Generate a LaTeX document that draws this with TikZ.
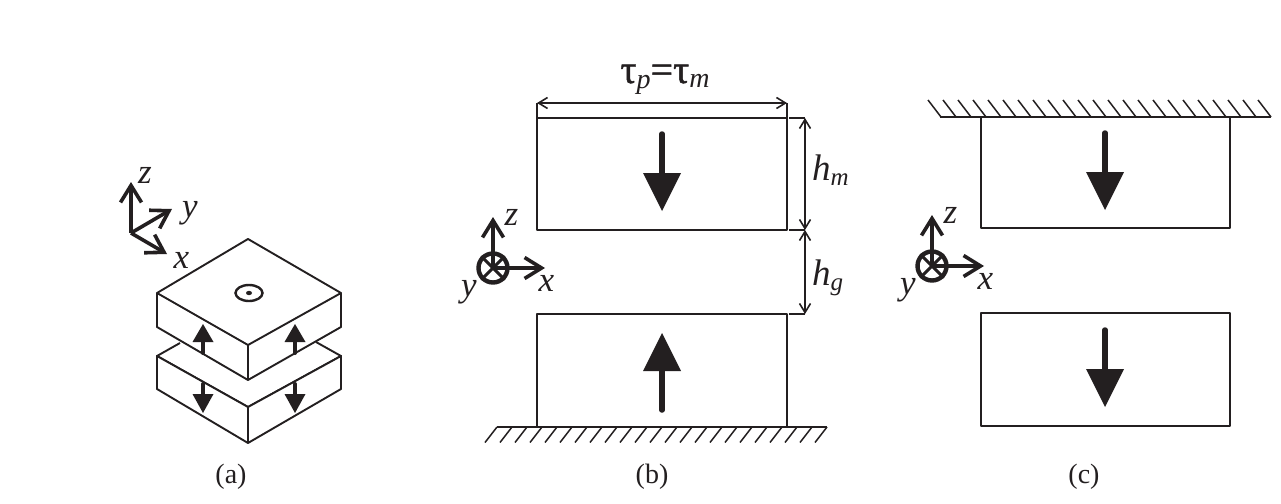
\documentclass[tikz,border=0pt]{standalone}
\usepackage{fontspec}
\setmainfont{Liberation Serif}
\newfontfamily\taufont[FakeBold=1.2]{Liberation Serif}
\usetikzlibrary{arrows.meta}
\definecolor{ink}{HTML}{231F20}
\tikzset{
  part/.style={draw=ink,line width=1.9pt,line join=round,fill=white},
  axisline/.style={draw=ink,line width=3.6pt,-{Straight Barb[length=17pt,width=21pt,line width=3.6pt]}},
  dimline/.style={draw=ink,line width=1.6pt,{Straight Barb[length=9pt,width=11pt,line width=1.6pt]}-{Straight Barb[length=9pt,width=11pt,line width=1.6pt]}},
  extline/.style={draw=ink,line width=1.6pt},
  hatchline/.style={draw=ink,line width=1.5pt},
  ground/.style={draw=ink,line width=2pt},
  axlabel/.style={text=ink,font=\fontsize{35}{35}\selectfont\itshape,inner sep=0pt},
  dimlabel/.style={text=ink,font=\fontsize{37}{37}\selectfont,inner sep=0pt},
  caption/.style={text=ink,font=\fontsize{28}{28}\selectfont,inner sep=0pt},
  ringmark/.style={circle,draw=ink,line width=4.4pt,minimum size=29pt,inner sep=0pt}
}
% shaft start, head base, tip, half-width, shaft width, x
\newcommand{\magarrow}[6]{%
  \draw[draw=ink,line width=#5pt,line cap=round] (#6,#1) -- (#6,#2);
  \fill[ink] (#6-#4,#2) -- (#6+#4,#2) -- (#6,#3) -- cycle;}
% planar triad
\newcommand{\triad}[5]{%
  \begin{scope}[shift={(#1,#2)}]
    \node[ringmark] (#3o) at (0,0) {};
    \coordinate (#3z) at (0,-51);
    \coordinate (#3x) at (52,0);
    \draw[axisline] (#3o.center) -- (#3z);
    \draw[axisline] (#3o.center) -- (#3x);
    \draw[draw=ink,line width=3pt] (#3o.north west) -- (#3o.south east);
    \draw[draw=ink,line width=3pt] (#3o.north east) -- (#3o.south west);
    \node[axlabel] (#3lz) at (18.5,-50.5) {z};
    \node[axlabel] (#3lx) at (53.5,15.5) {x};
    \node[axlabel] (#3ly) at (-24,24) {y};
  \end{scope}}
\begin{document}
\begin{tikzpicture}[x=1pt,y=-1pt]
\useasboundingbox (0,0) rectangle (1281,503);
\fill[white] (0,0) rectangle (1281,503);

% ---------- (a) ----------
\coordinate (ao) at (131,233);
\coordinate (az) at (131,182);
\coordinate (ay) at (172,209);
\coordinate (ax) at (167,254);
\draw[axisline] (ao) -- (az);
\draw[axisline] (ao) -- (ay);
\draw[axisline] (ao) -- (ax);
\node[axlabel] (alz) at (145,175.5) {z};
\node[axlabel] (aly) at (190,213) {y};
\node[axlabel] (alx) at (181.5,260.5) {x};
% lower block
\draw[part] (180,343) -- (157,356) -- (248,407) -- (341,356) -- (316,342);
\draw[part,fill=white] (157,356) -- (248,407) -- (341,356) -- (341,389) -- (248,443) -- (157,389) -- cycle;
\draw[part] (248,407) -- (248,443);
% upper block
\draw[part] (248,239) -- (341,293) -- (341,327) -- (248,380) -- (157,327) -- (157,293) -- cycle;
\draw[part] (157,293) -- (248,345) -- (341,293);
\draw[part] (248,345) -- (248,380);
\draw[draw=ink,line width=2.4pt] (249,293) ellipse [x radius=13.5,y radius=8];
\fill[ink] (249,293) ellipse [x radius=3,y radius=2.2];
\magarrow{353}{342}{324}{10.5}{4}{203}
\magarrow{353}{342}{324}{10.5}{4}{295}
\magarrow{384}{394}{413}{10.5}{4}{203}
\magarrow{384}{394}{413}{10.5}{4}{295}
\node[caption] (capa) at (231,477) {(a)};

% ---------- (b) ----------
\draw[part] (537,118) rectangle (787,230);
\draw[part] (537,314) rectangle (787,427);
\foreach \i in {0,...,22}{\draw[hatchline] (497+15*\i,427) -- (485+15*\i,442.5);}
\draw[ground] (497,427) -- (827,427);
\magarrow{134}{173}{211}{19}{5.5}{662}
\magarrow{410}{371}{333}{19}{5.5}{662}
\coordinate (tl) at (537,103);
\coordinate (tr) at (787,103);
\draw[dimline] (tl) -- (tr);
\draw[extline] (tl) -- (537,118);
\draw[extline] (tr) -- (787,118);
\coordinate (d1) at (805,118);
\coordinate (d2) at (805,230);
\coordinate (d3) at (805,314);
\draw[dimline] (d1) -- (d2);
\draw[dimline] (d2) -- (d3);
\draw[extline] (789,118) -- (d1);
\draw[extline] (789,230) -- (d2);
\draw[extline] (789,314) -- (d3);
\node[dimlabel,anchor=base] (tau) at (665,83) {\fontsize{40}{40}\selectfont\taufont τ\raisebox{-5pt}{\fontsize{28}{28}\selectfont\rmfamily\itshape p}=τ\raisebox{-4pt}{\fontsize{28}{28}\selectfont\rmfamily\itshape m}};
\node[dimlabel,anchor=base west] (hm) at (812,180.5) {\itshape h\raisebox{-5pt}{\fontsize{25}{25}\selectfont m}};
\node[dimlabel,anchor=base west] (hg) at (812,285.5) {\itshape h\raisebox{-5pt}{\fontsize{25}{25}\selectfont g}};
\triad{493}{268}{b}{}{}
\node[caption] (capb) at (652,477) {(b)};

% ---------- (c) ----------
\draw[part] (981,117) rectangle (1230,228);
\draw[part] (981,313) rectangle (1230,426);
\foreach \i in {0,...,22}{\draw[hatchline] (928+15*\i,100) -- (941+15*\i,117);}
\draw[ground] (940,117) -- (1271,117);
\magarrow{133}{172}{210}{19}{5.5}{1105}
\magarrow{330}{369}{407}{19}{5.5}{1105}
\triad{932}{266}{c}{}{}
\node[caption] (capc) at (1084,477) {(c)};
\end{tikzpicture}
\end{document}
